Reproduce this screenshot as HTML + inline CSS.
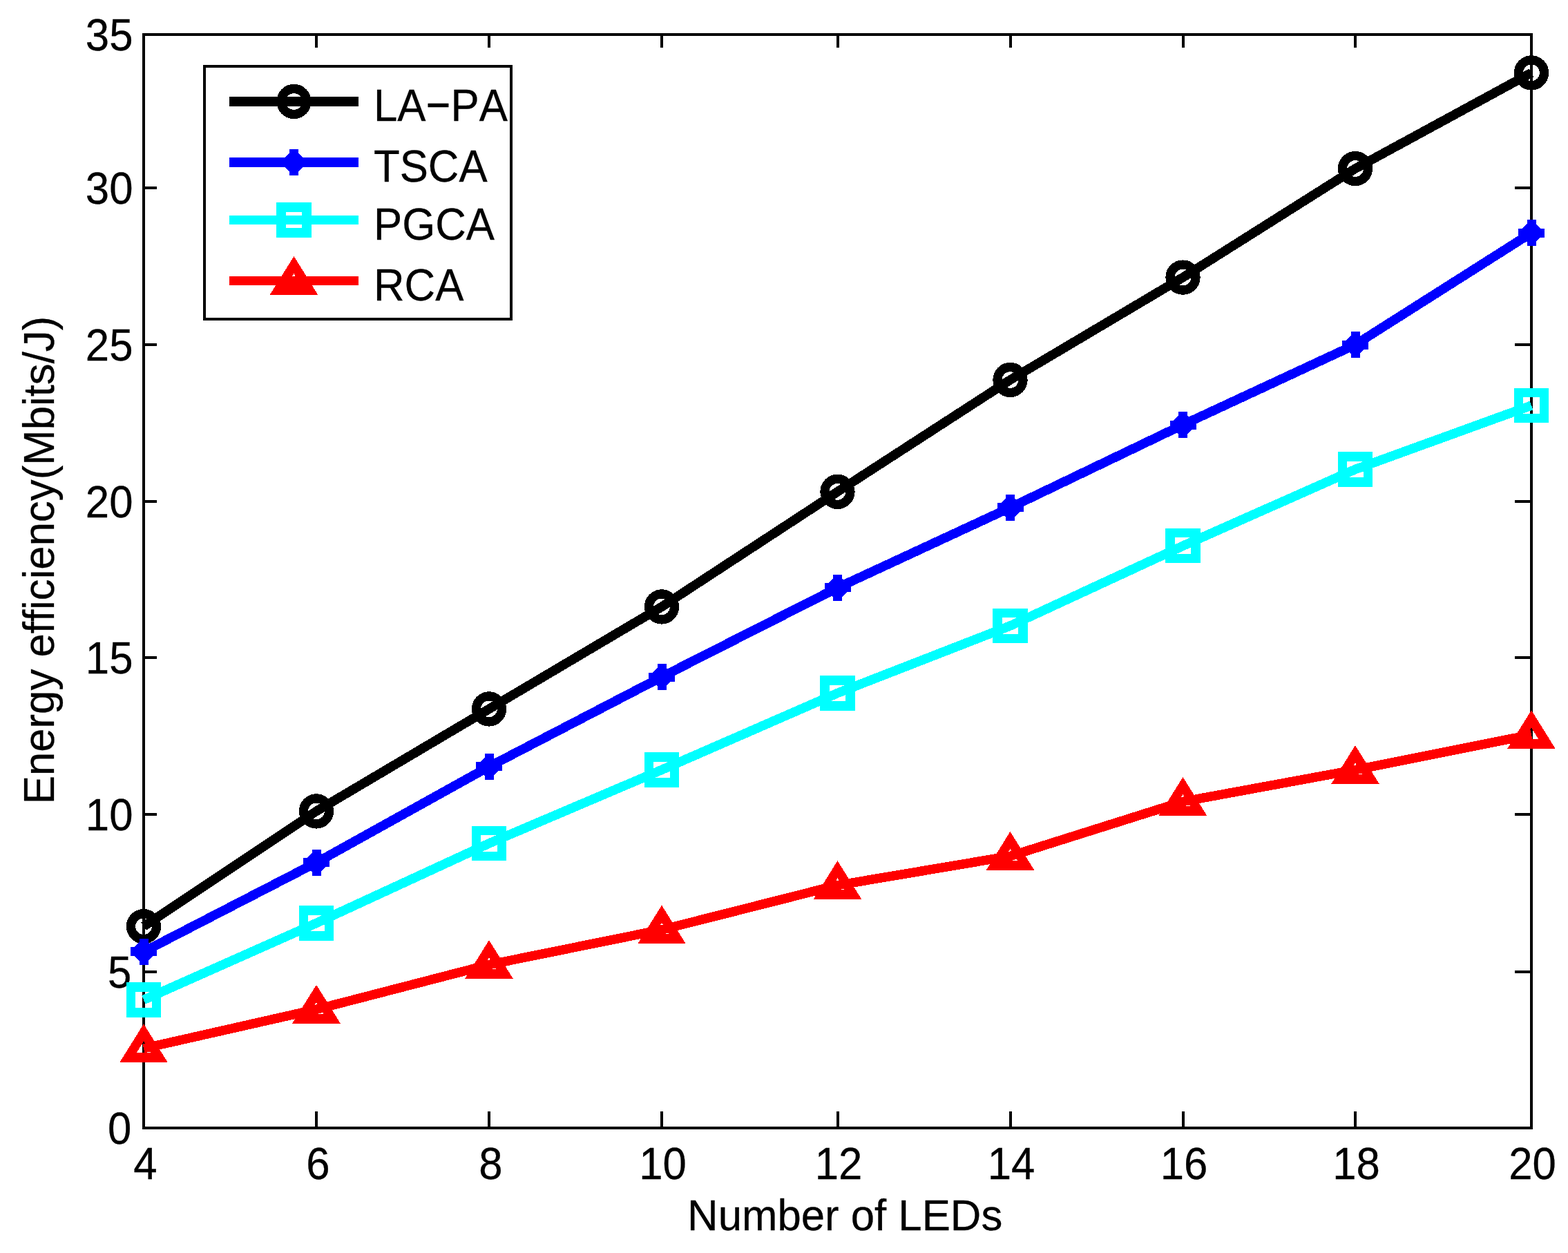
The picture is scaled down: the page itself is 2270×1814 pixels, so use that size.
<!DOCTYPE html>
<html lang="en"><head><meta charset="utf-8"><title>Energy efficiency vs number of LEDs</title>
<style>
html,body{margin:0;padding:0;background:#fff;}
body{width:2270px;height:1814px;overflow:hidden;}
svg{display:block;}
text{font-family:"Liberation Sans",sans-serif;font-size:62.5px;fill:#000;stroke:#000;stroke-width:0.3px;font-kerning:none;font-variant-ligatures:none;}
</style></head><body>
<svg width="2270" height="1814" viewBox="0 0 2270 1814">
<rect x="0" y="0" width="2270" height="1814" fill="#ffffff"/>
<g fill="none" stroke="#000" stroke-width="4" shape-rendering="crispEdges">
<rect x="208" y="50" width="2009" height="1583"/>
<path d="M458 1633V1609M458 50V69M708 1633V1609M708 50V69M958 1633V1609M958 50V69M1212.5 1633V1609M1212.5 50V69M1462.5 1633V1609M1462.5 50V69M1712.5 1633V1609M1712.5 50V69M1962 1633V1609M1962 50V69M208 1407H227M2217 1407H2193M208 1179H227M2217 1179H2193M208 952H227M2217 952H2193M208 726H227M2217 726H2193M208 499H227M2217 499H2193M208 272H227M2217 272H2193"/>
</g>
<g>
<text transform="translate(210.5 1707) scale(0.9875 1.03)" text-anchor="middle">4</text>
<text transform="translate(460.5 1707) scale(0.9875 1.03)" text-anchor="middle">6</text>
<text transform="translate(710.5 1707) scale(0.9875 1.03)" text-anchor="middle">8</text>
<text transform="translate(959.5 1707) scale(0.9875 1.03)" text-anchor="middle">10</text>
<text transform="translate(1214 1707) scale(0.9875 1.03)" text-anchor="middle">12</text>
<text transform="translate(1464 1707) scale(0.9875 1.03)" text-anchor="middle">14</text>
<text transform="translate(1714 1707) scale(0.9875 1.03)" text-anchor="middle">16</text>
<text transform="translate(1963.5 1707) scale(0.9875 1.03)" text-anchor="middle">18</text>
<text transform="translate(2218.5 1707) scale(0.9875 1.03)" text-anchor="middle">20</text>
</g>
<g>
<text transform="translate(190.3 1656.2) scale(0.9875 1.03)" text-anchor="end">0</text>
<text transform="translate(190.3 1430.2) scale(0.9875 1.03)" text-anchor="end">5</text>
<text transform="translate(192.5 1202.2) scale(0.9875 1.03)" text-anchor="end">10</text>
<text transform="translate(192.5 975.2) scale(0.9875 1.03)" text-anchor="end">15</text>
<text transform="translate(192.5 749.2) scale(0.9875 1.03)" text-anchor="end">20</text>
<text transform="translate(192.5 522.2) scale(0.9875 1.03)" text-anchor="end">25</text>
<text transform="translate(192.5 295.2) scale(0.9875 1.03)" text-anchor="end">30</text>
<text transform="translate(192.5 73.2) scale(0.9875 1.03)" text-anchor="end">35</text>
</g>
<text transform="translate(1223.2 1781) scale(0.9875 1.015)" text-anchor="middle">Number of LEDs</text>
<text transform="translate(78 811) rotate(-90) scale(0.9875 1.015)" text-anchor="middle">Energy efficiency(Mbits/J)</text>
<g shape-rendering="crispEdges">
<polyline points="208,1341.2 458,1174.4 708,1026.4 958,878.4 1212.5,711.9 1462.5,550 1712.5,401.6 1962,244.1 2217,105.4" fill="none" stroke="#000000" stroke-width="13.5" stroke-linejoin="round" stroke-linecap="butt"/>
<circle cx="208" cy="1341.2" r="18.5" fill="none" stroke="#000000" stroke-width="13.3"/>
<circle cx="458" cy="1174.4" r="18.5" fill="none" stroke="#000000" stroke-width="13.3"/>
<circle cx="708" cy="1026.4" r="18.5" fill="none" stroke="#000000" stroke-width="13.3"/>
<circle cx="958" cy="878.4" r="18.5" fill="none" stroke="#000000" stroke-width="13.3"/>
<circle cx="1212.5" cy="711.9" r="18.5" fill="none" stroke="#000000" stroke-width="13.3"/>
<circle cx="1462.5" cy="550" r="18.5" fill="none" stroke="#000000" stroke-width="13.3"/>
<circle cx="1712.5" cy="401.6" r="18.5" fill="none" stroke="#000000" stroke-width="13.3"/>
<circle cx="1962" cy="244.1" r="18.5" fill="none" stroke="#000000" stroke-width="13.3"/>
<circle cx="2217" cy="105.4" r="18.5" fill="none" stroke="#000000" stroke-width="13.3"/>
</g>
<g shape-rendering="crispEdges">
<polyline points="208,1377.8 458,1248.8 708,1109.9 958,980 1212.5,850.9 1462.5,734.9 1712.5,615 1962,499 2217,337.2" fill="none" stroke="#0000ff" stroke-width="13.5" stroke-linejoin="round" stroke-linecap="butt"/>
<path d="M189 1377.8H227M208 1358.8V1396.8M198.1 1367.9L217.9 1387.7M198.1 1387.7L217.9 1367.9" fill="none" stroke="#0000ff" stroke-width="13" stroke-linecap="butt"/>
<path d="M439 1248.8H477M458 1229.8V1267.8M448.1 1238.9L467.9 1258.7M448.1 1258.7L467.9 1238.9" fill="none" stroke="#0000ff" stroke-width="13" stroke-linecap="butt"/>
<path d="M689 1109.9H727M708 1090.9V1128.9M698.1 1100L717.9 1119.8M698.1 1119.8L717.9 1100" fill="none" stroke="#0000ff" stroke-width="13" stroke-linecap="butt"/>
<path d="M939 980H977M958 961V999M948.1 970.1L967.9 989.9M948.1 989.9L967.9 970.1" fill="none" stroke="#0000ff" stroke-width="13" stroke-linecap="butt"/>
<path d="M1193.5 850.9H1231.5M1212.5 831.9V869.9M1202.6 841L1222.4 860.8M1202.6 860.8L1222.4 841" fill="none" stroke="#0000ff" stroke-width="13" stroke-linecap="butt"/>
<path d="M1443.5 734.9H1481.5M1462.5 715.9V753.9M1452.6 725L1472.4 744.8M1452.6 744.8L1472.4 725" fill="none" stroke="#0000ff" stroke-width="13" stroke-linecap="butt"/>
<path d="M1693.5 615H1731.5M1712.5 596V634M1702.6 605.1L1722.4 624.9M1702.6 624.9L1722.4 605.1" fill="none" stroke="#0000ff" stroke-width="13" stroke-linecap="butt"/>
<path d="M1943 499H1981M1962 480V518M1952.1 489.1L1971.9 508.9M1952.1 508.9L1971.9 489.1" fill="none" stroke="#0000ff" stroke-width="13" stroke-linecap="butt"/>
<path d="M2198 337.2H2236M2217 318.2V356.2M2207.1 327.3L2226.9 347.1M2207.1 347.1L2226.9 327.3" fill="none" stroke="#0000ff" stroke-width="13" stroke-linecap="butt"/>
</g>
<g shape-rendering="crispEdges">
<polyline points="208,1447.5 458,1336.4 708,1221 958,1114.5 1212.5,1003.4 1462.5,906 1712.5,790.3 1962,679.5 2217,587" fill="none" stroke="#00ffff" stroke-width="13.5" stroke-linejoin="round" stroke-linecap="butt"/>
<rect x="189.5" y="1429" width="37" height="37" fill="none" stroke="#00ffff" stroke-width="13.3"/>
<rect x="439.5" y="1317.9" width="37" height="37" fill="none" stroke="#00ffff" stroke-width="13.3"/>
<rect x="689.5" y="1202.5" width="37" height="37" fill="none" stroke="#00ffff" stroke-width="13.3"/>
<rect x="939.5" y="1096" width="37" height="37" fill="none" stroke="#00ffff" stroke-width="13.3"/>
<rect x="1194" y="984.9" width="37" height="37" fill="none" stroke="#00ffff" stroke-width="13.3"/>
<rect x="1444" y="887.5" width="37" height="37" fill="none" stroke="#00ffff" stroke-width="13.3"/>
<rect x="1694" y="771.8" width="37" height="37" fill="none" stroke="#00ffff" stroke-width="13.3"/>
<rect x="1943.5" y="661" width="37" height="37" fill="none" stroke="#00ffff" stroke-width="13.3"/>
<rect x="2198.5" y="568.5" width="37" height="37" fill="none" stroke="#00ffff" stroke-width="13.3"/>
</g>
<g shape-rendering="crispEdges">
<polyline points="208,1517.8 458,1461.3 708,1396.6 958,1346 1212.5,1281.6 1462.5,1239.4 1712.5,1160.5 1962,1114.6 2217,1063.7" fill="none" stroke="#ff0000" stroke-width="13.5" stroke-linejoin="round" stroke-linecap="butt"/>
<path d="M208 1482.3L242.8 1538.1L173.2 1538.1ZM208 1507.6L197.8 1524L218.2 1524Z" fill="#ff0000" fill-rule="evenodd"/>
<path d="M458 1425.8L492.8 1481.6L423.2 1481.6ZM458 1451.1L447.8 1467.5L468.2 1467.5Z" fill="#ff0000" fill-rule="evenodd"/>
<path d="M708 1361.1L742.8 1416.9L673.2 1416.9ZM708 1386.4L697.8 1402.8L718.2 1402.8Z" fill="#ff0000" fill-rule="evenodd"/>
<path d="M958 1310.5L992.8 1366.3L923.2 1366.3ZM958 1335.8L947.8 1352.2L968.2 1352.2Z" fill="#ff0000" fill-rule="evenodd"/>
<path d="M1212.5 1246.1L1247.3 1301.9L1177.7 1301.9ZM1212.5 1271.4L1202.3 1287.8L1222.7 1287.8Z" fill="#ff0000" fill-rule="evenodd"/>
<path d="M1462.5 1203.9L1497.3 1259.7L1427.7 1259.7ZM1462.5 1229.2L1452.3 1245.6L1472.7 1245.6Z" fill="#ff0000" fill-rule="evenodd"/>
<path d="M1712.5 1125L1747.3 1180.8L1677.7 1180.8ZM1712.5 1150.3L1702.3 1166.7L1722.7 1166.7Z" fill="#ff0000" fill-rule="evenodd"/>
<path d="M1962 1079.1L1996.8 1134.9L1927.2 1134.9ZM1962 1104.4L1951.8 1120.8L1972.2 1120.8Z" fill="#ff0000" fill-rule="evenodd"/>
<path d="M2217 1028.2L2251.8 1084L2182.2 1084ZM2217 1053.5L2206.8 1069.9L2227.2 1069.9Z" fill="#ff0000" fill-rule="evenodd"/>
</g>
<rect x="296" y="96" width="444" height="366" fill="#fff" stroke="#000" stroke-width="4" shape-rendering="crispEdges"/>
<rect x="332" y="140" width="187" height="14" fill="#000000" shape-rendering="crispEdges"/>
<g shape-rendering="crispEdges"><circle cx="425.5" cy="147" r="18.5" fill="none" stroke="#000000" stroke-width="13.3"/></g>
<text transform="translate(541 175) scale(0.9875 1.04)">LA<tspan dx="-2.05" dy="-4.55" textLength="40.46" lengthAdjust="spacingAndGlyphs">-</tspan><tspan dx="-1.9" dy="4.55">PA</tspan></text>
<rect x="332" y="228" width="187" height="14" fill="#0000ff" shape-rendering="crispEdges"/>
<g shape-rendering="crispEdges"><path d="M406.5 235H444.5M425.5 216V254M415.6 225.1L435.4 244.9M415.6 244.9L435.4 225.1" fill="none" stroke="#0000ff" stroke-width="13" stroke-linecap="butt"/></g>
<text transform="translate(541 263) scale(0.9875 1.04)">TSCA</text>
<rect x="332" y="312" width="187" height="13" fill="#00ffff" shape-rendering="crispEdges"/>
<g shape-rendering="crispEdges"><rect x="407" y="300" width="37" height="37" fill="none" stroke="#00ffff" stroke-width="13.3"/></g>
<text transform="translate(541 346.5) scale(0.9875 1.04)">PGCA</text>
<rect x="332" y="400" width="187" height="13" fill="#ff0000" shape-rendering="crispEdges"/>
<g shape-rendering="crispEdges"><path d="M425.5 371L460.3 426.8L390.7 426.8ZM425.5 396.3L415.3 412.7L435.7 412.7Z" fill="#ff0000" fill-rule="evenodd"/></g>
<text transform="translate(541 434.5) scale(0.9875 1.04)">RCA</text>
</svg>
</body></html>
